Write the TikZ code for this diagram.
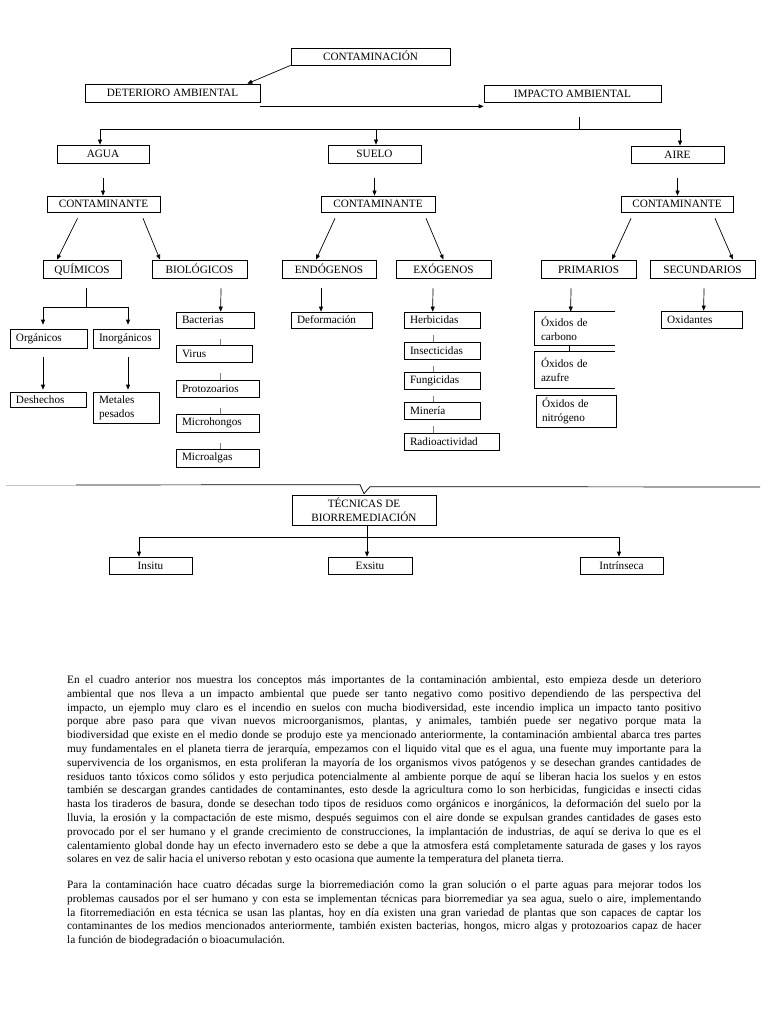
\documentclass[tikz,border=0pt]{standalone}
\usepackage{fontspec}
\setmainfont{Liberation Serif}
\usetikzlibrary{arrows.meta}
\newcommand{\renglon}[1]{\hbox to 634pt{#1}}
\begin{document}
\begin{tikzpicture}[x=1pt,y=-1pt,
  marco/.style={draw, line width=0.7pt, inner sep=0pt, align=center, font=\fontsize{11.2}{13.8}\selectfont},
  caja/.style={marco, text height=8.6pt, text depth=0.6pt},
  hoja/.style={draw, line width=0.7pt, inner xsep=6pt, inner ysep=0pt, align=left, font=\fontsize{11.2}{13.8}\selectfont},
  flecha/.style={line width=0.7pt, -{Triangle[length=5pt,width=4pt]}},
  linea/.style={line width=0.7pt},
  marca/.style={gray, line width=0.5pt},
  parrafo/.style={inner sep=0pt, anchor=north west, font=\fontsize{11.3}{13.8}\selectfont}]
  \fill[white] (0,0) rectangle (768,1024);
  \useasboundingbox (0,0) rectangle (768,1024);

  % Main boxes
  \node[caja, minimum width=159pt, minimum height=17pt] (contam) at (370.5,56.5) {CONTAMINACIÓN};
  \node[caja, minimum width=175pt, minimum height=18pt] (deterioro) at (172.5,93) {DETERIORO AMBIENTAL};
  \node[caja, minimum width=177pt, minimum height=17pt] (impacto) at (572.5,93.5) {IMPACTO AMBIENTAL};
  \node[caja, minimum width=92pt, minimum height=18pt] (agua) at (103,154) {AGUA};
  \node[caja, minimum width=93pt, minimum height=18pt] (suelo) at (374.5,154) {SUELO};
  \node[caja, minimum width=93pt, minimum height=17pt] (aire) at (677.5,154.5) {AIRE};
  \node[caja, minimum width=113pt, minimum height=16pt] (contA) at (103.5,204) {CONTAMINANTE};
  \node[caja, minimum width=114pt, minimum height=16pt] (contS) at (378,204) {CONTAMINANTE};
  \node[caja, minimum width=112pt, minimum height=16pt] (contR) at (677,204) {CONTAMINANTE};
  \node[caja, minimum width=78pt, minimum height=18pt] (quim) at (82,269) {QUÍMICOS};
  \node[caja, minimum width=95pt, minimum height=18pt] (bio) at (199.5,269) {BIOLÓGICOS};
  \node[caja, minimum width=94pt, minimum height=18pt] (endo) at (329,269) {ENDÓGENOS};
  \node[caja, minimum width=95pt, minimum height=18pt] (exo) at (443.5,269) {EXÓGENOS};
  \node[caja, minimum width=95pt, minimum height=18pt] (prim) at (588.5,269) {PRIMARIOS};
  \node[caja, minimum width=105pt, minimum height=18pt] (secu) at (702.5,269) {SECUNDARIOS};

  % Leaves
  \node[hoja, text width=65pt, minimum height=19pt] (org) at (48.5,338.5) {Orgánicos};
  \node[hoja, text width=54pt, minimum height=19pt] (inorg) at (126,338.5) {Inorgánicos};
  \node[hoja, text width=64pt, minimum height=15pt] (desh) at (48,399.5) {Deshechos};
  \node[hoja, text width=54pt, minimum height=31pt] (metal) at (126,407.5) {Metales\\pesados};
  \node[hoja, text width=66pt, minimum height=16pt] (bact) at (215,320) {Bacterias};
  \node[hoja, text width=64pt, minimum height=17pt] (virus) at (214,353.5) {Virus};
  \node[hoja, text width=71pt, minimum height=17pt] (proto) at (217.5,388.5) {Protozoarios};
  \node[hoja, text width=71pt, minimum height=18pt] (mhongo) at (217.5,423) {Microhongos};
  \node[hoja, text width=71pt, minimum height=18pt] (malga) at (217.5,458) {Microalgas};
  \node[hoja, text width=69pt, minimum height=16pt] (defo) at (331.5,320) {Deformación};
  \node[hoja, text width=64pt, minimum height=16pt] (herb) at (442,320) {Herbicidas};
  \node[hoja, text width=64pt, minimum height=17pt] (insec) at (442,350.5) {Insecticidas};
  \node[hoja, text width=64pt, minimum height=17pt] (fung) at (442,380.5) {Fungicidas};
  \node[hoja, text width=64pt, minimum height=17pt] (mine) at (442,410.5) {Minería};
  \node[hoja, text width=83pt, minimum height=17pt] (radio) at (451.5,441.5) {Radioactividad};
  \node[hoja, draw=none, text width=68pt, minimum height=33pt] (oxc) at (575,328.5) {Óxidos de\\carbono};
  \node[hoja, draw=none, text width=68pt, minimum height=36pt] (oxa) at (575,370) {Óxidos de\\azufre};
  \node[hoja, text width=68pt, minimum height=32pt] (oxn) at (576,411) {Óxidos de\\nitrógeno};
  \node[hoja, text width=69pt, minimum height=17pt] (oxid) at (701.5,319.5) {Oxidantes};
  \draw[linea] (oxc.north east) -- (oxc.north west) -- (oxc.south west) -- (oxc.south east);
  \draw[linea] (oxa.north east) -- (oxa.north west) -- (oxa.south west) -- (oxa.south east);

  % Top connectors
  \draw[flecha] (contam.south west) -- ([xshift=-13pt]deterioro.north east);
  \draw[flecha] ([yshift=-4pt]deterioro.south east) -- ([yshift=-4pt]impacto.south west);
  \coordinate (ramal) at (579,129);
  \draw[linea] ([xshift=6.5pt,yshift=-15pt]impacto.south) -- (ramal);
  \draw[flecha] (ramal) -| ([xshift=-3pt]agua.north);
  \draw[flecha] (ramal) -| ([xshift=1.5pt]suelo.north);
  \draw[flecha] (ramal) -| ([xshift=2.5pt]aire.north);
  \foreach \a/\b in {agua/contA, suelo/contS, aire/contR}
    \draw[flecha, shorten <=15pt] (\a.south) -- (\a.south |- \b.north);

  \draw[flecha] ([xshift=-26pt,yshift=-6pt]contA.south) -- ([xshift=-25pt]quim.north);
  \draw[flecha] ([xshift=39.5pt,yshift=-6pt]contA.south) -- ([xshift=-39.5pt]bio.north);
  \draw[flecha] ([xshift=-43pt,yshift=-6pt]contS.south) -- ([xshift=-13pt]endo.north);
  \draw[flecha] ([xshift=48pt,yshift=-6pt]contS.south) -- (exo.north);
  \draw[flecha] ([xshift=-46pt,yshift=-6pt]contR.south) -- ([xshift=23.5pt]prim.north);
  \draw[flecha] ([xshift=38pt,yshift=-6pt]contR.south) -- ([xshift=30.5pt]secu.north);

  % Quimicos
  \coordinate (ramalQ) at (86,307);
  \draw[linea] ([xshift=4pt,yshift=-10pt]quim.south) -- (ramalQ);
  \draw[flecha, shorten >=4pt] (ramalQ) -| ([xshift=-5.5pt]org.north);
  \draw[flecha, shorten >=4pt] (ramalQ) -| ([xshift=2pt]inorg.north);
  \draw[flecha, shorten <=9pt, shorten >=2pt] ([xshift=-5.5pt]org.south) -- ([xshift=-5pt]desh.north);
  \draw[flecha, shorten <=9pt, shorten >=2pt] ([xshift=2pt]inorg.south) -- ([xshift=2pt]metal.north);

  % Biologicos
  \draw[flecha] ([xshift=21.5pt,yshift=-10pt]bio.south) -- ([xshift=45pt]bact.north west);
  \foreach \a/\b in {bact/virus, virus/proto, proto/mhongo, mhongo/malga}
    \draw[marca, shorten <=11pt] ([xshift=45pt]\a.south west) -- ([xshift=45pt]\b.north west);

  % Endogenos, exogenos
  \draw[flecha] ([xshift=-8pt,yshift=-10pt]endo.south) -- ([xshift=-10.5pt]defo.north);
  \draw[flecha] ([xshift=-10.5pt,yshift=-10pt]exo.south) -- ([xshift=29pt]herb.north west);
  \foreach \a/\b in {herb/insec, insec/fung, fung/mine, mine/radio}
    \draw[marca, shorten <=7pt] ([xshift=30pt]\a.south west) -- ([xshift=30pt]\b.north west);

  % Primarios, secundarios
  \draw[flecha] ([xshift=-17.5pt,yshift=-10pt]prim.south) -- ([xshift=36pt]oxc.north west);
  \draw[linea] ([xshift=35pt]oxc.south west) -- ([xshift=35pt]oxa.north west);
  \draw[flecha] ([xshift=1.5pt,yshift=-10pt]secu.south) -- ([xshift=43pt]oxid.north west);

  % Biorremediacion
  \node[marco, minimum width=144pt, minimum height=30pt] (tecnicas) at (364,510) {TÉCNICAS DE\\BIORREMEDIACIÓN};
  \node[caja, minimum width=83pt, minimum height=17pt] (insitu) at (150.5,565.5) {Insitu};
  \node[caja, minimum width=84pt, minimum height=17pt] (exsitu) at (370,565.5) {Exsitu};
  \node[caja, minimum width=83pt, minimum height=17pt] (intrinseca) at (621.5,565.5) {Intrínseca};
  \coordinate (izq) at (6,485);
  \coordinate (gris) at (76,485);
  \coordinate (der) at (760,487);
  \draw[linea, gray!45] (izq) -- (gris);
  \draw[linea] (gris) -- ([xshift=-4pt,yshift=10pt]tecnicas.north) -- ([yshift=1pt]tecnicas.north)
    -- ([xshift=6pt,yshift=8pt]tecnicas.north) -- (der);
  \coordinate (ramalT) at (367,537);
  \draw[flecha] ([xshift=3pt]tecnicas.south) -- ([xshift=-3pt]exsitu.north);
  \draw[flecha] (ramalT) -| ([xshift=-11.5pt]insitu.north);
  \draw[flecha] (ramalT) -| ([xshift=-2.5pt]intrinseca.north);

  % Text
  \node[parrafo] (textoA) at (67,675.5) {\vbox{%
    \renglon{En el cuadro anterior nos muestra los conceptos más importantes de la contaminación ambiental, esto empieza desde un deterioro}
    \renglon{ambiental que nos lleva a un impacto ambiental que puede ser tanto negativo como positivo dependiendo de las perspectiva del}
    \renglon{impacto, un ejemplo muy claro es el incendio en suelos con mucha biodiversidad, este incendio implica un impacto tanto positivo}
    \renglon{porque abre paso para que vivan nuevos microorganismos, plantas, y animales, también puede ser negativo porque mata la}
    \renglon{biodiversidad que existe en el medio donde se produjo este ya mencionado anteriormente, la contaminación ambiental abarca tres partes}
    \renglon{muy fundamentales en el planeta tierra de jerarquía, empezamos con el liquido vital que es el agua, una fuente muy importante para la}
    \renglon{supervivencia de los organismos, en esta proliferan la mayoría de los organismos vivos patógenos y se desechan grandes cantidades de}
    \renglon{residuos tanto tóxicos como sólidos y esto perjudica potencialmente al ambiente porque de aquí se liberan hacia los suelos y en estos}
    \renglon{también se descargan grandes cantidades de contaminantes, esto desde la agricultura como lo son herbicidas, fungicidas e insecti cidas}
    \renglon{hasta los tiraderos de basura, donde se desechan todo tipos de residuos como orgánicos e inorgánicos, la deformación del suelo por la}
    \renglon{lluvia, la erosión y la compactación de este mismo, después seguimos con el aire donde se expulsan grandes cantidades de gases esto}
    \renglon{provocado por el ser humano y el grande crecimiento de construcciones, la implantación de industrias, de aquí se deriva lo que es el}
    \renglon{calentamiento global donde hay un efecto invernadero esto se debe a que la atmosfera está completamente saturada de gases y los rayos}
    \hbox{solares en vez de salir hacia el universo rebotan y esto ocasiona que aumente la temperatura del planeta tierra.}}};
  \node[parrafo] (textoB) at (67,880.5) {\vbox{%
    \renglon{Para la contaminación hace cuatro décadas surge la biorremediación como la gran solución o el parte aguas para mejorar todos los}
    \renglon{problemas causados por el ser humano y con esta se implementan técnicas para biorremediar ya sea agua, suelo o aire, implementando}
    \renglon{la fitorremediación en esta técnica se usan las plantas, hoy en día existen una gran variedad de plantas que son capaces de captar los}
    \renglon{contaminantes de los medios mencionados anteriormente, también existen bacterias, hongos, micro algas y protozoarios capaz de hacer}
    \hbox{la función de biodegradación o bioacumulación.}}};

\end{tikzpicture}
\end{document}
